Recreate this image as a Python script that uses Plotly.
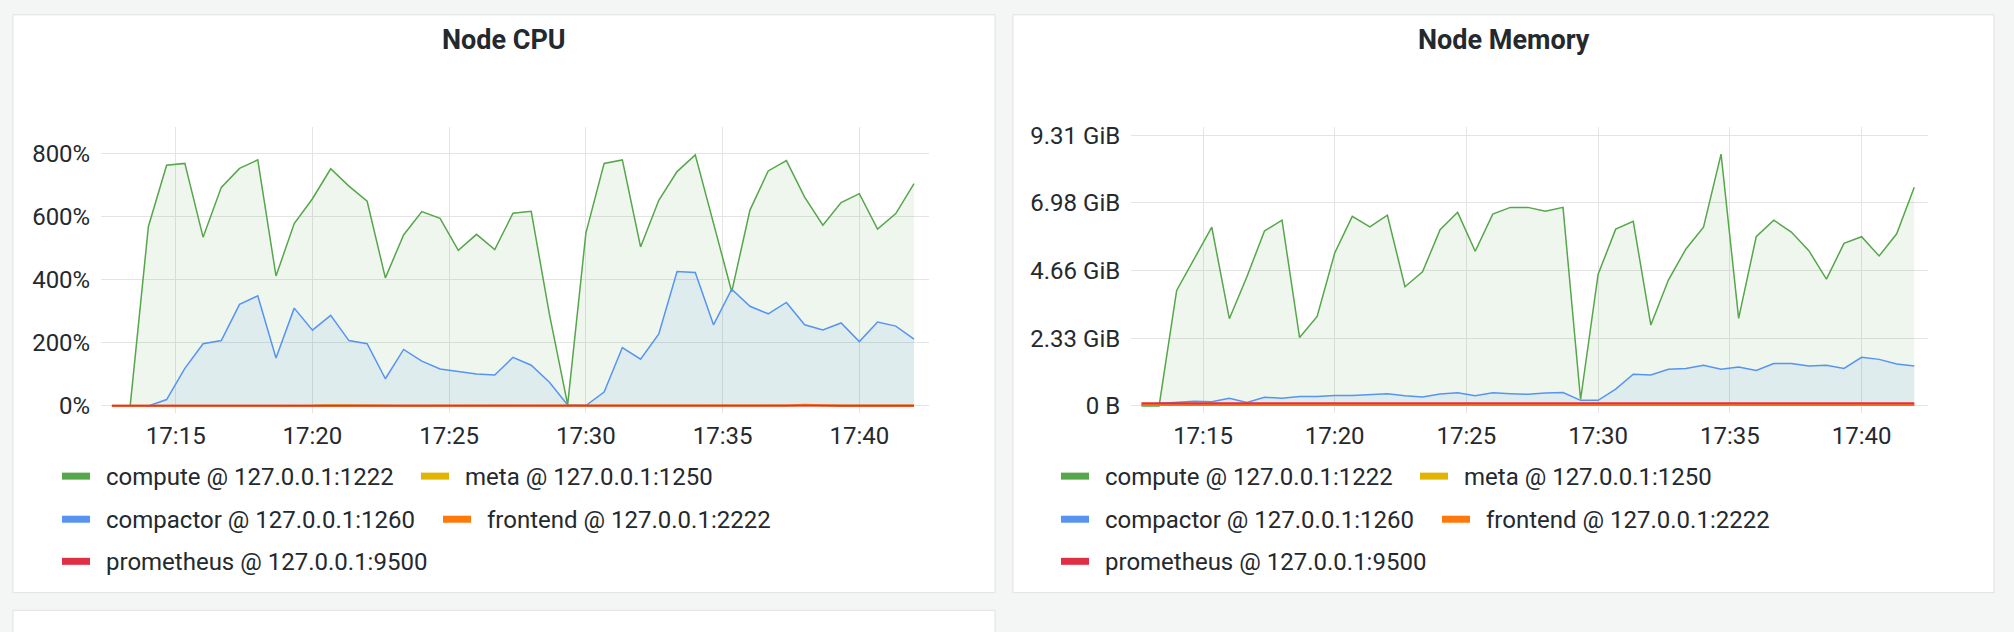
import pandas as pd
import plotly.graph_objects as go

# ---------------- data ----------------
start_time = "2022-01-01 17:12:40"
n_points = 45
times = pd.date_range(start_time, periods=n_points, freq="40s")

series_names = [
    "compute @ 127.0.0.1:1222",
    "meta @ 127.0.0.1:1250",
    "compactor @ 127.0.0.1:1260",
    "frontend @ 127.0.0.1:2222",
    "prometheus @ 127.0.0.1:9500",
]
series_colors = ["#56A64B", "#E0B400", "#5794F2", "#FF780A", "#E02F44"]

# Node CPU, percent
cpu_compute = [0, 0, 569, 763, 769, 535, 693, 753, 780, 412, 578, 657, 752, 697, 649,
               406, 542, 616, 595, 493, 544, 496, 611, 617, 290, 4, 548, 769, 780, 504,
               652, 743, 796, 580, 362, 621, 745, 778, 662, 573, 645, 673, 561, 610, 705]
cpu_meta = [0, 0, 0, 0, 0, 1, 2, 2, 1, 0, 0, 1, 3, 3, 2,
            1, 0, 0, 1, 2, 2, 1, 0, 0, 0, 0, 0, 0, 0, 0,
            1, 2, 2, 1, 0, 0, 0, 0, 1, 0, 0, 0, 0, 1, 2]
cpu_compactor = [0, 0, 0, 20, 119, 197, 207, 322, 349, 152, 310, 240, 287, 207, 197,
                 86, 179, 142, 117, 109, 101, 98, 154, 129, 75, 3, 1, 44, 185, 148,
                 228, 426, 423, 257, 370, 316, 292, 328, 257, 241, 263, 204, 266, 253, 212]
cpu_frontend = [0, 0, 0, 0, 0, 0, 0, 1, 0, 0, 0, 1, 2, 1, 0,
                0, 0, 0, 0, 0, 0, 0, 0, 0, 0, 0, 0, 0, 0, 0,
                0, 0, 0, 0, 0, 0, 0, 1, 3, 1, 0, 0, 0, 0, 0]
cpu_prometheus = [1, 1, 1, 1, 1, 1, 1, 1, 1, 1, 1, 1, 1, 1, 1,
                  1, 1, 1, 1, 1, 1, 1, 1, 1, 1, 1, 1, 1, 1, 1,
                  1, 1, 1, 1, 1, 1, 1, 1, 1, 1, 1, 1, 1, 1, 1]

# Node Memory, GiB
mem_compute = [0, 0, 3.97, 5.06, 6.15, 3.00, 4.44, 6.02, 6.39, 2.35, 3.08, 5.26, 6.52, 6.16, 6.56,
               4.10, 4.61, 6.06, 6.66, 5.32, 6.60, 6.83, 6.83, 6.70, 6.83, 0.22, 4.53, 6.08, 6.35, 2.78,
               4.33, 5.40, 6.15, 8.66, 3.01, 5.82, 6.39, 5.98, 5.34, 4.36, 5.59, 5.82, 5.16, 5.92, 7.52]
mem_meta = [0.06] * n_points
mem_compactor = [0.05, 0.08, 0.12, 0.16, 0.14, 0.26, 0.12, 0.30, 0.26, 0.32, 0.32, 0.36, 0.36, 0.40, 0.42,
                 0.35, 0.31, 0.41, 0.45, 0.35, 0.45, 0.42, 0.40, 0.44, 0.46, 0.19, 0.19, 0.58, 1.09, 1.06,
                 1.26, 1.29, 1.40, 1.26, 1.34, 1.22, 1.46, 1.46, 1.37, 1.40, 1.29, 1.67, 1.60, 1.44, 1.37]
mem_frontend = [0.03] * n_points
mem_prometheus = [0.09] * n_points

cpu_tick_vals = [0, 200, 400, 600, 800]
cpu_tick_text = ["0%", "200%", "400%", "600%", "800%"]
mem_tick_vals = [0, 2.5e9 / 2**30, 5e9 / 2**30, 7.5e9 / 2**30, 1e10 / 2**30]
mem_tick_text = ["0 B", "2.33 GiB", "4.66 GiB", "6.98 GiB", "9.31 GiB"]
panel_titles = ["Node CPU", "Node Memory"]

# ---------------- layout helpers ----------------
W, H = 2014, 632
FONT = "Roboto, 'Open Sans', sans-serif"
TEXT = "#24292e"
GRID = "#e4e4e4"


def px(x):
    return x / W


def py(y):
    return 1 - y / H


def fill_rgba(hex_color, a):
    h = hex_color.lstrip("#")
    r, g, b = int(h[0:2], 16), int(h[2:4], 16), int(h[4:6], 16)
    return f"rgba({r},{g},{b},{a})"


fig = go.Figure()

cpu_series = [cpu_compute, cpu_meta, cpu_compactor, cpu_frontend, cpu_prometheus]
mem_series = [mem_compute, mem_meta, mem_compactor, mem_frontend, mem_prometheus]
line_widths = [1.5, 1.5, 1.5, 2.2, 1.8]

for axis_id, series_set in (("", cpu_series), ("2", mem_series)):
    for name, color, vals, lw in zip(series_names, series_colors, series_set, line_widths):
        fig.add_trace(go.Scatter(
            x=times, y=vals, name=name, mode="lines",
            line=dict(color=color, width=lw),
            fill="tozeroy", fillcolor=fill_rgba(color, 0.1),
            xaxis="x" + axis_id, yaxis="y" + axis_id,
            showlegend=False, hoverinfo="skip",
        ))

x_range = ["2022-01-01 17:12:16", "2022-01-01 17:42:32"]
common_x = dict(
    type="date", range=x_range, tickformat="%H:%M", dtick=300000,
    tick0="2022-01-01 17:00:00", showgrid=True, gridcolor=GRID, gridwidth=1,
    zeroline=False, showline=False, ticks="outside", ticklen=1,
    tickcolor="rgba(0,0,0,0)", tickfont=dict(family=FONT, size=24, color=TEXT),
)
common_y = dict(
    showgrid=True, gridcolor=GRID, gridwidth=1, zeroline=False, showline=False,
    ticks="outside", ticklen=5, tickcolor="rgba(0,0,0,0)",
    tickfont=dict(family=FONT, size=24, color=TEXT), tickmode="array",
)

plot_top, plot_bottom = 124, 416
fig.update_layout(
    width=W, height=H,
    margin=dict(l=0, r=0, t=0, b=0),
    paper_bgcolor="#f4f5f5",
    plot_bgcolor="rgba(0,0,0,0)",
    xaxis=dict(domain=[px(101), px(928.6)], anchor="y", **common_x),
    yaxis=dict(domain=[py(plot_bottom), py(plot_top)], anchor="x",
               range=[-24, 883], tickvals=cpu_tick_vals, ticktext=cpu_tick_text, **common_y),
    xaxis2=dict(domain=[px(1131), px(1928.3)], anchor="y2", **common_x),
    yaxis2=dict(domain=[py(plot_bottom), py(plot_top)], anchor="x2",
                range=[-0.26, 9.58], tickvals=mem_tick_vals, ticktext=mem_tick_text, **common_y),
)

shapes = []
annotations = []
# panels
for x0, x1, y0, y1 in ((13, 995, 9, 599), (1013, 1994, 9, 599), (13, 995, 617, 700)):
    shapes.append(dict(type="rect", xref="paper", yref="paper",
                       x0=px(x0), x1=px(x1), y0=py(y0), y1=py(y1),
                       fillcolor="#ffffff", line=dict(color="#dfe1e1", width=1),
                       layer="below"))

# titles
for cx, title in zip((504, 1504), panel_titles):
    annotations.append(dict(text=f"<b>{title}</b>", xref="paper", yref="paper",
                            x=px(cx), y=py(35), xanchor="center", yanchor="middle",
                            showarrow=False, font=dict(family=FONT, size=27, color=TEXT)))

# legends (Grafana-style list under each panel)
legend_slots = [  # (symbol x0, row y) relative to CPU panel
    (62, 480), (421, 480), (62, 524), (443, 524), (62, 567)
]
legend_order = [0, 1, 2, 3, 4]
for offset in (0, 999):
    for idx, (sx, sy) in zip(legend_order, legend_slots):
        x0 = sx + offset
        shapes.append(dict(type="line", xref="paper", yref="paper",
                           x0=px(x0), x1=px(x0 + 28), y0=py(sy), y1=py(sy),
                           line=dict(color=series_colors[idx], width=7)))
        annotations.append(dict(text=series_names[idx], xref="paper", yref="paper",
                                x=px(x0 + 42), y=py(sy + 1), xanchor="left", yanchor="middle",
                                showarrow=False,
                                font=dict(family=FONT, size=24, color=TEXT)))

fig.update_layout(shapes=shapes, annotations=annotations)
fig.write_html(
    "out.html",
    config={"displayModeBar": False, "staticPlot": True},
    post_script="document.body.style.margin='0';document.body.style.overflow='hidden';",
)
